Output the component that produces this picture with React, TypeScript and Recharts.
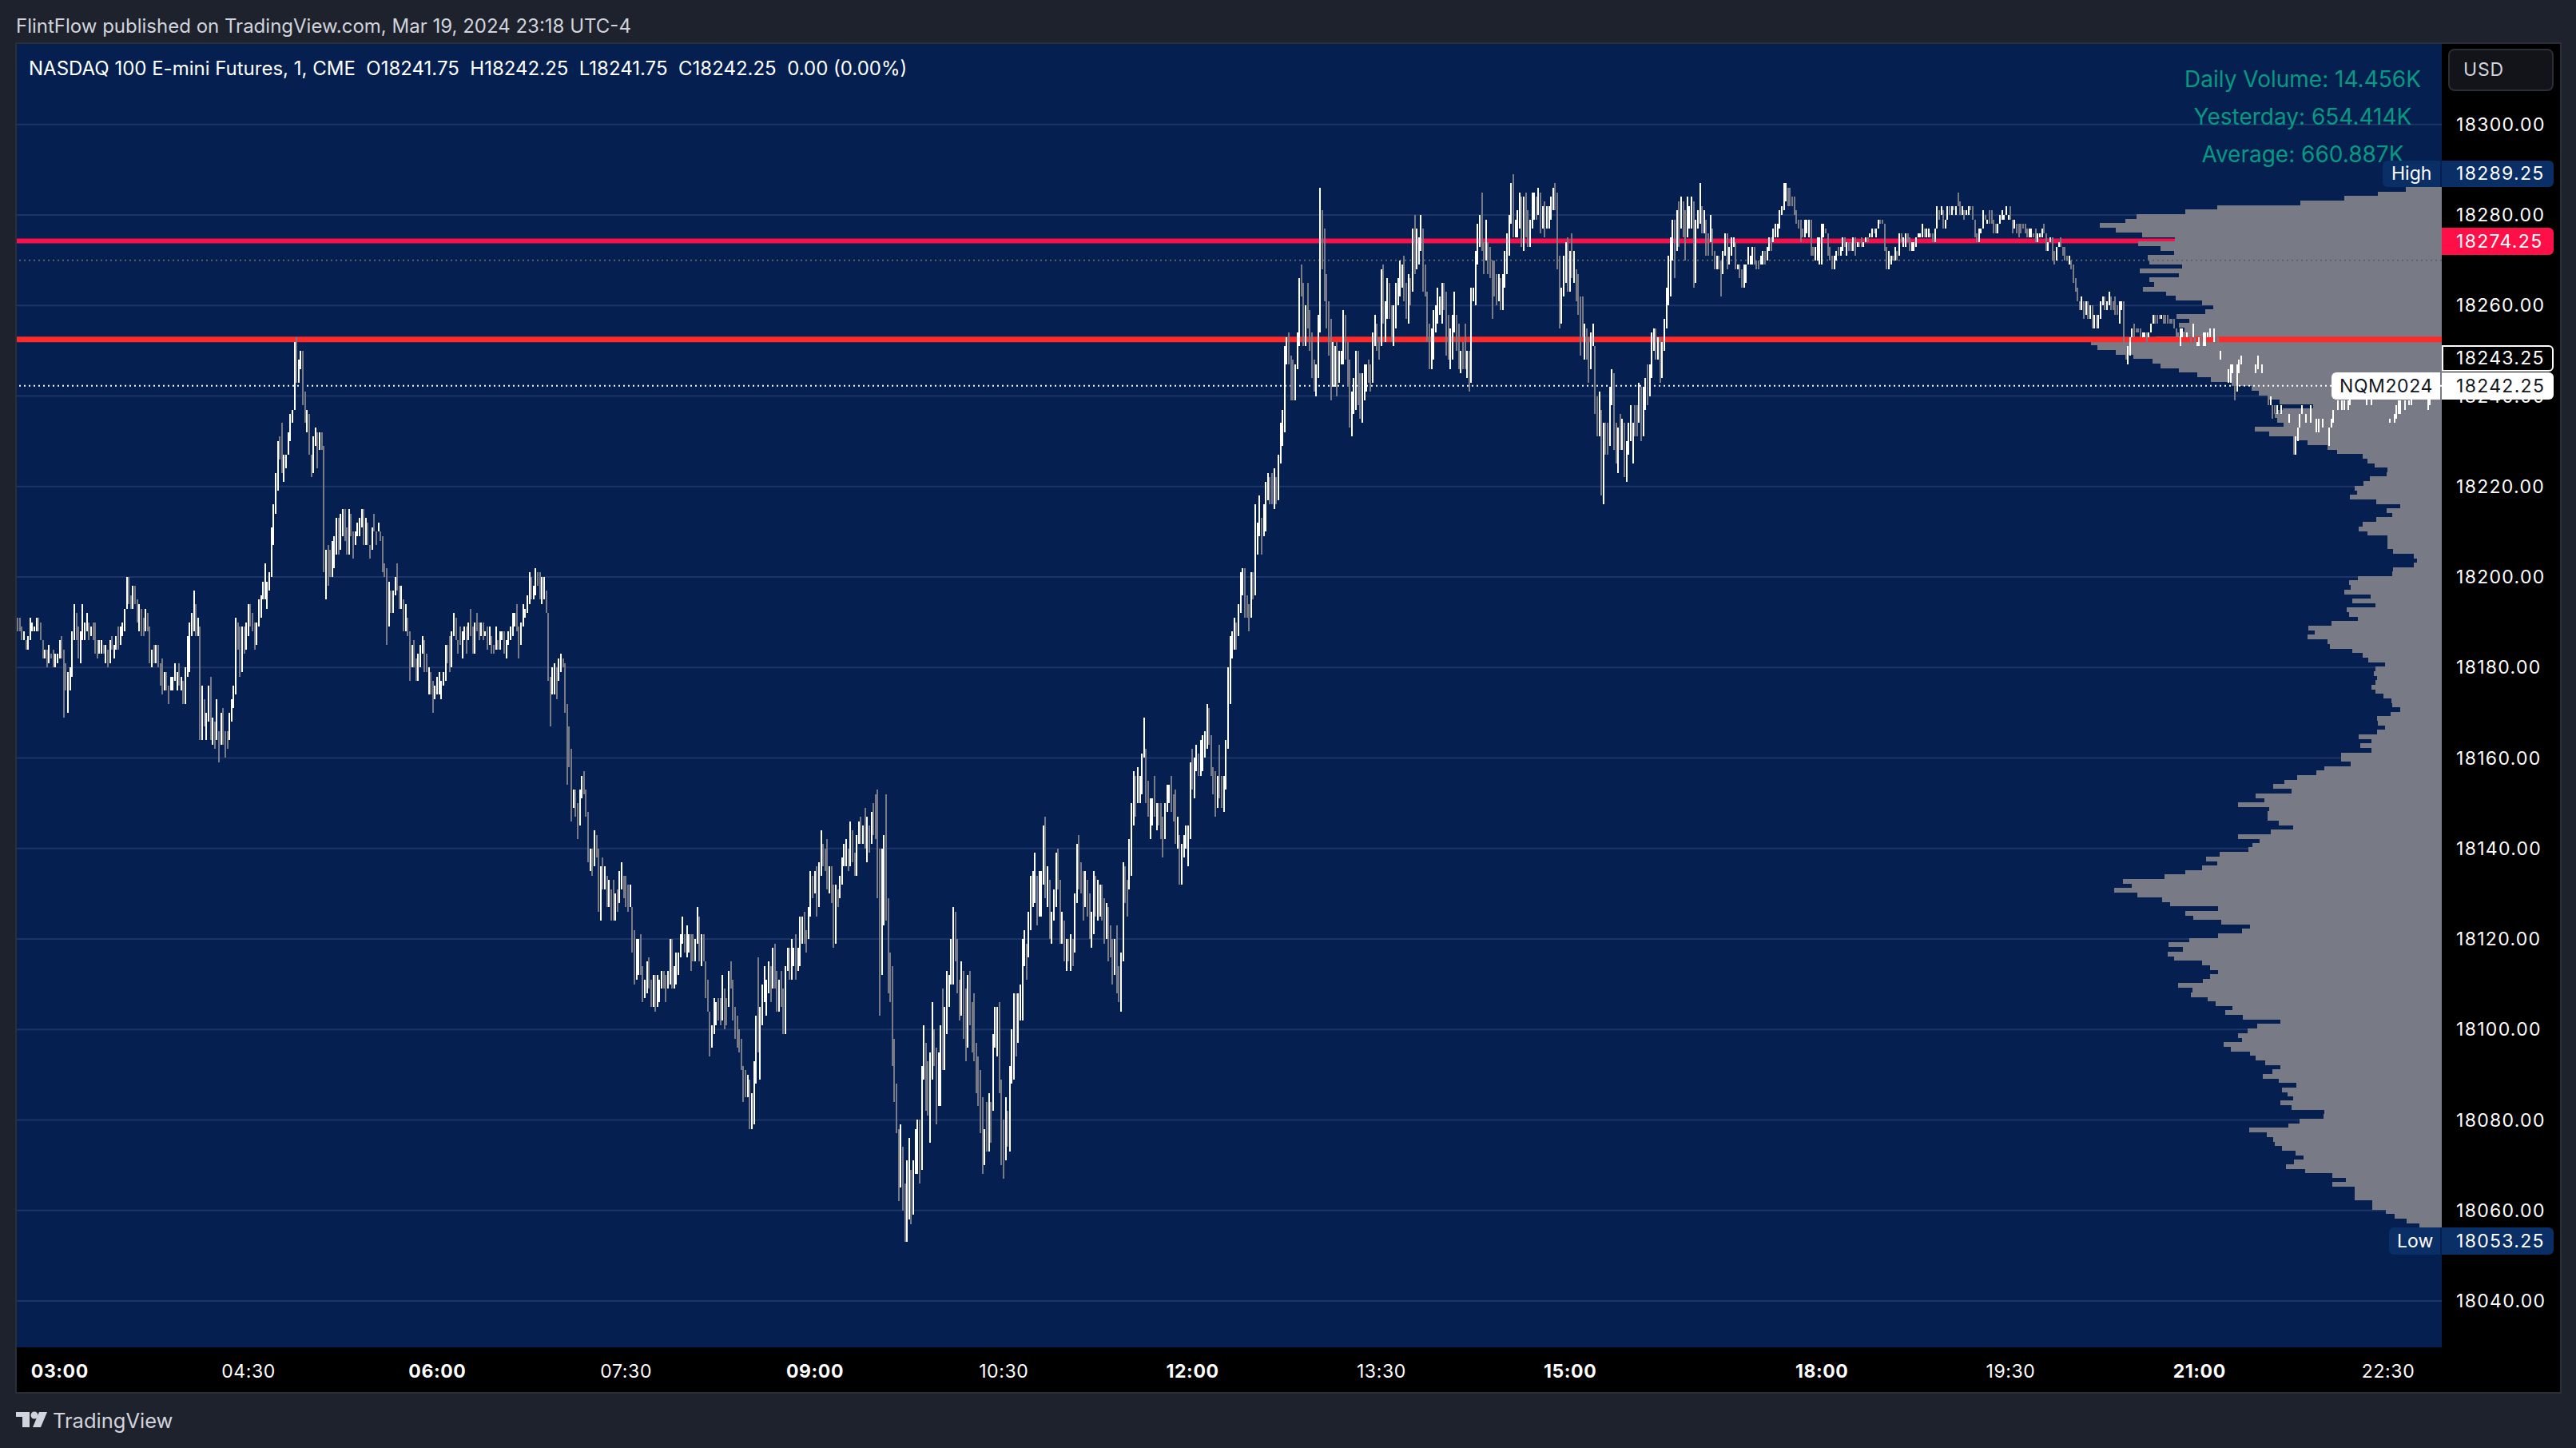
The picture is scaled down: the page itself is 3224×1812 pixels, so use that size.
import React from 'react';
import { Bar, BarChart, Cell, ComposedChart, ReferenceLine, XAxis, YAxis } from 'recharts';

// prices are stored as offsets from this base
const BASE = 18000;

// 1-minute bars, highs of each bar
const highs = [
  191,191,189,188,186,187,191,190,189,191,191,190,186,184,184,185,183,184,183,183,
  186,187,184,181,179,180,188,194,192,189,188,194,190,192,190,189,190,190,186,186,
  186,185,185,184,186,187,185,187,189,189,190,193,200,200,196,198,198,195,194,193,
  191,193,192,189,184,185,185,185,181,182,179,179,176,178,178,181,179,181,178,177,
  180,187,190,192,197,194,191,189,176,173,170,176,178,169,168,173,166,170,171,166,
  166,170,173,176,191,190,189,189,189,190,194,194,192,190,190,195,196,199,203,199,
  201,211,216,223,230,231,234,227,227,232,236,237,252,253,248,250,250,241,237,236,
  227,231,233,232,232,232,229,206,207,206,208,209,213,213,214,215,215,211,215,214,
  210,210,212,213,215,215,213,212,207,211,214,210,212,210,209,203,202,199,197,197,
  200,203,198,198,195,194,191,188,185,186,182,
  183,185,187,186,183,180,179,177,176,178,179,177,179,185,185,187,188,192,191,186,
  189,188,189,189,190,193,189,190,192,190,190,190,188,189,189,187,185,189,186,188,
  188,188,186,188,189,192,192,194,189,190,194,193,196,201,200,198,202,201,201,200,
  200,197,192,178,180,181,180,182,183,182,181,172,167,162,153,153,150,153,156,157,
  153,148,140,140,144,143,140,136,138,136,134,133,131,133,130,131,135,137,134,134,
  132,132,127,122,120,120,121,114,111,115,116,111,112,112,112,111,113,113,112,113,
  120,120,114,117,117,121,125,121,123,121,121,121,120,127,125,121,121,115,111,104,
  101,107,106,107,107,112,109,107,113,115,111,105,103,100,98,92,91,90,89,86,
  93,103,116,105,110,114,111,115,114,118,119,113,111,113,109,114,118,118,120,118,
  121,118,125,125,126,122,127,135,134,135,136,137,144,141,140,142,136,
  136,132,132,131,134,138,141,142,140,146,144,139,143,146,147,145,149,147,145,148,
  150,152,153,140,140,143,152,129,117,114,98,88,78,79,74,66,71,76,69,71,
  78,80,80,92,101,97,93,95,106,100,96,95,101,109,105,113,112,120,127,126,
  120,111,115,113,109,112,113,106,108,97,94,91,85,78,84,86,84,99,105,105,
  106,89,80,85,82,92,100,108,108,108,110,120,122,119,126,134,135,139,134,135,
  135,145,147,136,133,126,131,139,140,133,126,124,120,120,121,120,130,141,143,137,
  135,135,133,130,126,135,134,133,132,132,129,128,127,123,120,120,123,114,117,137,
  136,133,142,150,157,156,158,156,161,169,162,155,151,151,156,150,150,150,147,150,
  154,154,156,152,153,147,143,141,143,145,145,159,162,160,163,161,164,165,166,172,
  171,165,158,157,156,163,156,156,164,180,187,188,191,190,194,201,202,202,
  196,194,201,201,216,212,218,213,216,221,223,222,223,224,222,227,234,237,251,253,
  254,249,248,247,254,266,269,265,260,265,259,254,248,247,258,286,281,277,267,261,
  257,252,251,252,250,250,259,258,252,248,241,244,250,250,245,245,247,247,248,247,
  254,258,256,253,268,269,261,266,265,260,260,265,266,270,269,271,265,267,266,277,
  280,277,275,280,277,269,263,256,255,259,260,264,262,265,265,263,258,255,258,263,
  258,256,250,252,256,250,250,264,264,272,278,280,285,274,279,274,273,270,270,267,
  267,266,267,272,276,280,287,289,279,281,285,284,284,285,281,279,285,285,284,286,
  285,282,283,282,282,284,286,287,285,271,264,271,274,275,272,276,272,268,267,262,
  262,256,255,253,254,256,251,240,241,237,234,234,234,242,246,245,234,233,236,235,
  234,230,234,238,234,238,238,243,242,242,244,247,247,254,255,255,253,253,
  252,257,264,271,275,279,279,281,283,284,283,281,284,282,284,283,279,281,287,282,
  281,279,276,280,277,272,271,271,270,272,276,276,273,275,275,274,269,269,268,269,
  269,273,271,273,273,270,270,271,272,272,273,275,275,277,278,278,281,282,287,
  287,286,286,284,284,281,279,279,277,279,279,279,279,273,273,275,275,278,278,
  277,276,273,271,271,272,273,273,275,275,274,274,274,275,275,274,274,275,274,275,
  275,276,277,277,277,279,279,279,278,273,272,271,271,273,272,276,276,275,276,276,
  275,274,274,275,276,276,278,277,277,277,276,276,277,282,281,282,281,279,282,282,
  282,282,282,285,283,282,281,281,282,282,282,279,276,277,277,281,280,279,281,281,
  279,278,278,280,281,280,282,280,282,279,279,278,278,278,278,278,277,277,277,276,
  277,276,276,277,278,276,274,275,275,272,273,274,275,273,273,271,271,270,269,266,264,
  261,262,261,261,261,260,260,258,258,258,261,262,262,261,263,262,261,262,260,261,
  261,261,251,251,253,255,256,255,255,255,254,254,254,254,256,258,258,258,258,258,
  258,258,258,257,257,257,255,254,255,255,254,254,254,253,256,253,252,253,253,254,
  254,254,255,254,255,254,253,
  250,249,248,247,246,247,247,243,247,248,249,249,249,249,248,248,248,247,249,248,
  247,246,243,240,240,238,238,238,237,238,237,236,236,236,234,231,231,233,236,238,
  237,236,236,238,236,235,235,235,235,235,234,233,233,235,237,238,239,239,239,239,
  239,239,240,241,241,241,241,241,241,241,240,240,240,240,240,240,240,240,240,240,
  240,235,235,236,238,239,239,239,239,240,239,240,240,240,240,240,240,240,240,240,
  240,242,
];

// lows of each bar
const lows = [
  188,188,186,186,184,184,186,188,188,188,188,186,182,182,180,181,182,180,180,181,
  182,182,169,175,170,175,178,186,186,182,181,186,186,188,186,187,186,183,182,183,
  183,183,181,180,181,184,182,184,184,185,187,188,193,194,193,193,194,190,188,187,
  187,188,188,181,180,181,181,180,176,174,175,175,172,175,175,177,175,176,175,172,
  172,178,179,187,188,187,187,164,164,167,164,168,164,163,162,164,159,163,163,160,
  162,164,168,171,174,184,178,179,183,184,187,189,188,184,185,189,191,195,195,193,
  197,200,207,214,219,226,223,221,224,227,230,234,237,243,243,246,238,234,232,227,
  222,223,229,224,228,228,201,195,198,200,200,202,205,205,206,209,208,205,205,209,
  204,207,209,209,211,207,207,207,204,206,210,207,210,208,201,200,185,189,192,192,
  196,197,193,193,188,188,187,177,180,180,177,
  177,180,183,179,179,174,174,170,173,174,174,173,176,177,181,179,180,187,186,183,
  185,182,186,183,186,187,183,183,188,186,187,186,187,184,185,183,183,184,184,184,
  186,183,182,185,186,187,189,188,182,185,189,191,192,194,195,195,196,198,195,194,
  195,192,177,167,174,174,173,177,179,180,170,154,158,146,149,147,142,145,151,152,
  147,137,135,134,136,138,126,124,131,131,127,127,124,124,124,126,128,131,129,127,
  126,127,117,110,111,112,112,106,107,108,109,105,105,104,105,106,109,109,106,109,
  110,109,109,110,112,116,119,117,116,117,113,115,115,119,115,114,115,107,104,94,
  96,99,101,102,101,102,100,101,105,109,102,98,96,95,91,84,85,85,78,78,
  79,88,95,89,101,106,103,108,106,109,109,104,104,105,99,99,113,111,111,114,
  111,113,114,119,119,117,120,125,129,130,125,127,134,136,135,131,130,
  128,118,119,127,129,132,136,136,135,136,137,134,134,141,141,141,140,137,139,141,
  143,142,129,103,112,123,124,108,106,92,84,77,62,65,60,53,53,58,57,59,
  68,68,66,69,89,82,81,75,89,92,79,83,83,91,91,99,105,110,110,115,
  108,102,103,98,93,96,101,95,93,86,83,77,68,70,73,73,75,82,96,94,
  86,70,67,71,74,73,88,89,94,97,102,102,114,111,116,122,127,128,123,125,
  125,132,129,127,120,119,124,127,131,119,119,115,113,115,113,114,117,128,131,130,
  124,127,125,120,118,121,125,124,125,124,119,120,115,116,110,112,108,106,104,115,
  128,125,131,134,145,147,150,150,152,160,150,147,142,145,147,144,145,142,138,142,
  148,150,148,146,141,140,132,132,138,140,136,142,153,151,157,156,156,157,160,162,
  163,156,152,147,149,151,149,148,153,162,172,182,184,184,187,192,196,191,
  191,188,191,195,196,205,209,205,209,210,217,216,216,215,216,217,225,229,232,247,
  247,239,239,239,246,251,262,251,251,255,250,244,241,240,244,254,268,261,255,249,
  239,242,242,240,243,247,247,248,242,233,231,236,237,238,235,234,239,241,243,241,
  243,251,250,248,251,256,252,257,257,252,251,255,260,262,264,261,257,256,260,263,
  267,268,269,272,263,262,252,246,246,248,254,256,258,256,259,249,248,246,248,254,
  250,246,245,246,246,244,241,243,261,260,269,273,272,267,270,267,266,257,262,260,
  261,259,259,264,267,271,278,275,275,275,277,273,272,275,273,273,277,279,279,280,
  276,277,275,277,277,279,281,281,268,255,256,262,265,263,263,266,265,261,258,249,
  253,248,248,243,246,251,236,231,231,218,216,227,227,229,238,228,225,223,228,228,
  222,221,227,230,225,231,231,234,230,231,237,238,240,244,250,248,248,243,
  244,250,255,260,262,270,266,272,273,277,275,270,275,277,277,264,265,277,278,276,
  276,271,271,274,271,268,268,268,262,267,271,268,269,271,273,268,268,266,264,264,
  265,269,269,269,269,268,268,269,269,269,270,272,272,274,275,275,277,280,281,
  283,282,282,282,280,278,277,274,275,275,276,275,271,271,270,270,269,269,275,
  276,271,270,268,268,270,271,271,272,273,271,272,272,272,271,273,273,273,273,274,
  274,275,275,276,275,277,278,278,272,268,268,269,270,270,270,271,274,273,273,274,
  272,272,272,273,275,275,275,275,275,275,275,274,274,277,279,280,277,277,279,280,
  280,281,280,282,280,280,279,280,280,281,279,275,274,274,276,277,279,278,278,278,
  276,276,276,278,279,279,280,279,279,276,277,276,275,276,277,276,275,275,275,275,
  274,274,275,275,276,272,272,274,270,269,270,273,273,271,270,270,269,268,265,263,261,
  259,259,257,258,257,257,255,255,255,255,257,260,259,259,260,259,259,258,258,256,
  259,251,248,247,249,253,253,254,254,253,253,253,252,253,254,256,256,256,257,257,
  256,256,256,256,256,255,253,253,251,253,253,253,253,252,253,252,251,251,252,251,
  251,253,253,253,252,252,252,
  248,247,246,245,243,243,245,239,241,245,247,247,247,247,247,246,246,245,246,246,
  245,244,241,238,238,235,236,236,236,236,235,234,234,234,232,227,227,230,233,236,
  235,234,234,234,235,233,232,232,233,233,232,231,229,233,234,236,237,237,237,237,
  237,237,238,239,239,240,240,240,239,239,238,239,238,238,238,238,238,238,238,238,
  238,234,234,234,235,236,236,237,237,238,238,238,238,238,238,238,238,238,238,237,
  238,241,
];

// u = closed up (white), d = closed down (grey)
const directions = [
  'ddduduuuuu','dddududduu','uddduuuudd','uuuududddu','udududuudu','uuuddudd' + 'ud','duddududdd','udduuuudud','uuuuududud','uududududd',
  'duuuuddudu','uddduuuuuu','uuuuudduuu','uuuduuddud','duududdudd','uuuduuddud','duuuududdu','ddudddd' + 'udu','uddududdudd',
  'uuuddudduu','uuuudduudd','duududdudd','udududdudu','uduuuuuddu','uuuuduuddu','uddduuduud','ddddudduud','ddududdudu','dudduduudd',
  'dudduudduu','dduduuuddu','uduuuuuduu','dduududddd','uuudduddud','dddddddudu','uuduuuuudu','ddudduuduu','duuudduudu','duudddu',
  'dduduuuudu','dduudududu','dddduudddd','dddudduudu','uuduudduud','duuduuuuud','dduddudddd','dddududuuu','ddduduuudu','uuuduuuudu',
  'uududuuudd','udududuudd','dudduuduud','dudddudduu','dduuuduuuu','dduududddu','uuddduduuu','uuduuduuuu','ddddudduuu','uuuduuud',
  'dduduuuduu','udduduuuuu','ddduuuddud','ddduuudddd','duuduuuddd','uuudduuudd','uudduduudd','uuuuuddudu','duuudddduu','uuuuddduuu',
  'ddudduduuu','uudduddddd','uduuuuuduu','ududduuudu','duduuuuddd','uuudududdd','dudduuddud','udduuddudu','duuuuddudu','uduuudud',
  'uuuuuududu','dduuuduuud','uddudduddu','uduuududdu','uuuuddduu','duuduuuuuu','udddddddd','uuudduuuuu','dddduuduud','uddududduu',
  'duuduudddd','uudududuud','duuuuuuduu','dduududuud','ududduduud','ddduuududd','dduuuuuudd','udddddduud','duuudduudd','uuddddudddd',
  'dududududu','uuduuddddu','udduuudddd','uuduuudddu','dddddddduu','dudduduudu','uuududd',
  'uddduuuduu','udddddduud','uddduddudu','dddudduuuu','dududduudu','dduuududuu','duuddddddd','ududdddddd','duduuuudud','uudddddddu','uu',
].join('');

// empty minutes kept on the right of the last bar
const RIGHT_PAD = 4;

const priceTicks = [18040,18060,18080,18100,18120,18140,18160,18180,18200,18220,18240,18260,18280,18300];
const timeTickBars = [20,110,200,290,380,470,560,650,740,860,950,1040,1130];
const timeTickLabels = ['03:00','04:30','06:00','07:30','09:00','10:30','12:00','13:30','15:00','18:00','19:30','21:00','22:30'];
const timeTickBold = ['03:00','06:00','09:00','12:00','15:00','18:00','21:00'];

// session volume profile, one row per point from 18286 down to 18057
const profileVolume = [
  45,80,122,177,281,321,382,396,428,408,375,334,380,352,335,368,366,325,378,329,
  366,360,374,345,333,300,286,296,332,316,329,322,326,358,439,431,408,386,362,352,
  329,306,289,263,238,229,218,203,161,199,209,206,198,234,216,183,168,143,131,99,
  93,84,68,69,90,98,109,106,115,82,52,69,62,82,99,104,93,68,68,68,
  61,35,31,35,61,62,105,116,114,122,89,112,83,119,116,105,138,167,159,168,
  143,140,112,99,92,71,83,85,81,83,88,83,73,63,62,52,64,81,80,71,
  81,104,88,102,88,126,126,114,147,157,181,197,211,188,233,222,255,216,218,218,
  204,186,214,255,228,237,242,278,295,281,300,321,347,399,388,410,381,350,340,280,
  321,311,276,240,250,280,316,342,324,343,335,300,290,280,290,299,330,312,314,293,
  283,262,271,249,202,231,243,255,250,273,264,240,233,221,202,212,224,204,182,200,
  193,186,202,188,147,148,178,192,241,219,211,209,200,183,173,185,195,171,137,120,
  137,109,109,109,87,87,70,59,44,28,
];
const PROFILE_TOP_PRICE = 18286;

const levelCrimson = 18274.25;
const levelRed = 18252.5;
const levelGrey = 18270;
const lastPrice = 18242.25;

const rows = highs.map((h, i) => ({
  i,
  range: [BASE + lows[i], BASE + h],
  up: directions[i] === 'u',
}));
for (let p = 0; p < RIGHT_PAD; p++) rows.push({ i: rows.length, range: null as any, up: false });

const profileRows = profileVolume.map((volume, i) => ({ price: PROFILE_TOP_PRICE - i, volume }));

const FONT = 'Inter, sans-serif';
const WHITE = '#ffffff';
const GREY = '#787b86';
const BG = '#1e222d';
const PANE = '#041f50';
const GRID = '#1c3566';
const LINE = '#2a2e39';
const TAG_BLUE = '#0a2e66';

const PANE_LEFT = 21;
const PANE_TOP = 55;
const PANE_RIGHT = 3056;
const PANE_BOTTOM = 1686;
const AXIS_RIGHT = 3204;
const AXIS_BOTTOM = 1742;
const CHART_W = AXIS_RIGHT - PANE_LEFT;
const CHART_H = AXIS_BOTTOM - PANE_TOP;
const AXIS_W = AXIS_RIGHT - PANE_RIGHT;
const AXIS_H = AXIS_BOTTOM - PANE_BOTTOM;
const Y_MIN = 18029.75;
const Y_MAX = 18317.8;

const layer: React.CSSProperties = { position: 'absolute', left: PANE_LEFT, top: PANE_TOP };
const chartProps = { width: CHART_W, height: CHART_H, data: rows, margin: { top: 0, right: 0, bottom: 0, left: 0 } };

function TimeTick({ x, payload }: any) {
  const label = timeTickLabels[timeTickBars.indexOf(payload.value)];
  return (
    <text
      x={x}
      y={PANE_BOTTOM - PANE_TOP + 38}
      textAnchor="middle"
      fill={WHITE}
      fontFamily={FONT}
      fontSize={23}
      letterSpacing={0.6}
      fontWeight={timeTickBold.includes(label) ? 700 : 400}
    >
      {label}
    </text>
  );
}

function PriceTag({ left, top, width, height, bg, color = WHITE, text, border, pad = 18, spacing = 1.3, radius = '0 6px 6px 0' }: any) {
  return (
    <div
      style={{
        position: 'absolute',
        left,
        top,
        width,
        height,
        boxSizing: 'border-box',
        background: bg,
        color,
        border: border ? `2px solid ${border}` : undefined,
        borderRadius: radius,
        font: `23px ${FONT}`,
        letterSpacing: spacing,
        lineHeight: `${border ? height - 4 : height}px`,
        paddingLeft: border ? pad - 2 : pad,
        whiteSpace: 'nowrap',
      }}
    >
      {text}
    </div>
  );
}

export default function App() {
  return (
    <div style={{ position: 'absolute', left: 0, top: 0, width: 3224, height: 1812, background: BG, overflow: 'hidden' }}>
      <div style={{ position: 'absolute', left: 19, top: 53, width: AXIS_RIGHT - 19 + 2, height: AXIS_BOTTOM - 53 + 2, boxSizing: 'border-box', border: `2px solid ${LINE}`, background: '#000' }} />
      <div style={{ position: 'absolute', left: PANE_LEFT, top: PANE_TOP, width: PANE_RIGHT - PANE_LEFT, height: PANE_BOTTOM - PANE_TOP, background: PANE }} />

      <div style={{ position: 'absolute', left: 20, top: 18, font: `24px ${FONT}`, color: '#d1d4dc', whiteSpace: 'pre' }}>
        FlintFlow published on TradingView.com, Mar 19, 2024 23:18 UTC-4
      </div>

      {/* grid and the level that sits behind the profile */}
      <div style={layer}>
        <ComposedChart {...chartProps}>
          <XAxis dataKey="i" height={AXIS_H} tick={false} axisLine={false} tickLine={false} />
          <YAxis orientation="right" width={AXIS_W} domain={[Y_MIN, Y_MAX]} ticks={priceTicks} tick={false} axisLine={false} tickLine={false} allowDataOverflow />
          {priceTicks.map((p) => (
            <ReferenceLine key={p} y={p} stroke={GRID} strokeWidth={2} />
          ))}
          <ReferenceLine y={levelCrimson} stroke="#f7104a" strokeWidth={6} />
        </ComposedChart>
      </div>

      {/* volume profile growing from the right edge */}
      <div style={{ position: 'absolute', left: PANE_RIGHT - 600, top: 234 }}>
        <BarChart width={600} height={1302} layout="vertical" data={profileRows} margin={{ top: 0, right: 0, bottom: 0, left: 0 }} barCategoryGap={0}>
          <XAxis type="number" domain={[0, 600]} reversed hide />
          <YAxis type="category" dataKey="price" hide />
          <Bar dataKey="volume" fill={GREY} isAnimationActive={false} shapeRendering="crispEdges" />
        </BarChart>
      </div>

      {/* levels drawn over the profile */}
      <div style={layer}>
        <ComposedChart {...chartProps}>
          <XAxis dataKey="i" height={AXIS_H} tick={false} axisLine={false} tickLine={false} />
          <YAxis orientation="right" width={AXIS_W} domain={[Y_MIN, Y_MAX]} ticks={priceTicks} tick={false} axisLine={false} tickLine={false} allowDataOverflow />
          <ReferenceLine y={levelRed} stroke="#ff2b2b" strokeWidth={7} />
          <ReferenceLine y={levelGrey} stroke="#5d606b" strokeWidth={2} strokeDasharray="2 4" />
          <ReferenceLine y={lastPrice} stroke={WHITE} strokeWidth={2} strokeDasharray="2 4" />
        </ComposedChart>
      </div>

      {/* price bars and axis labels */}
      <div style={layer}>
        <ComposedChart {...chartProps}>
          <XAxis
            dataKey="i"
            height={AXIS_H}
            ticks={timeTickBars}
            interval={0}
            tick={<TimeTick />}
            axisLine={false}
            tickLine={false}
          />
          <YAxis
            orientation="right"
            width={AXIS_W}
            domain={[Y_MIN, Y_MAX]}
            ticks={priceTicks}
            interval={0}
            tickFormatter={(v: number) => v.toFixed(2)}
            tick={{ fill: WHITE, fontSize: 23, fontFamily: FONT, letterSpacing: 1.3 }}
            tickSize={0}
            tickMargin={18}
            axisLine={false}
            tickLine={false}
            allowDataOverflow
          />
          <Bar dataKey="range" barSize={2} isAnimationActive={false} shapeRendering="crispEdges">
            {rows.map((r) => (
              <Cell key={r.i} fill={r.up ? WHITE : GREY} />
            ))}
          </Bar>
        </ComposedChart>
      </div>

      <div style={{ position: 'absolute', left: 36, top: 71, font: `24px ${FONT}`, color: WHITE, whiteSpace: 'pre' }}>
        {'NASDAQ 100 E-mini Futures, 1, CME  O18241.75  H18242.25  L18241.75  C18242.25  0.00 (0.00%)'}
      </div>

      {['Daily Volume: 14.456K', 'Yesterday: 654.414K', 'Average: 660.887K'].map((t, i) => (
        <div key={t} style={{ position: 'absolute', left: 2682, width: 400, top: 82 + i * 47, textAlign: 'center', font: `28px ${FONT}`, color: '#089981', whiteSpace: 'pre' }}>
          {t}
        </div>
      ))}

      <div style={{ position: 'absolute', left: 3064, top: 61, width: 132, height: 53, boxSizing: 'border-box', background: '#131419', border: `2px solid ${LINE}`, borderRadius: 8, font: `23px ${FONT}`, letterSpacing: 0.8, color: '#d1d4dc', lineHeight: '49px', paddingLeft: 17 }}>
        USD
      </div>

      <PriceTag left={2982} top={201} width={72} height={33} bg={TAG_BLUE} text="High" pad={11} spacing={0} radius="6px 0 0 6px" />
      <PriceTag left={3056} top={201} width={140} height={33} bg={TAG_BLUE} text="18289.25" />
      <PriceTag left={2990} top={1536} width={64} height={34} bg={TAG_BLUE} text="Low" pad={10} spacing={0} radius="6px 0 0 6px" />
      <PriceTag left={3056} top={1536} width={140} height={34} bg={TAG_BLUE} text="18053.25" />
      <PriceTag left={3056} top={285} width={140} height={34} bg="#ff0f47" text="18274.25" />
      <PriceTag left={3056} top={432} width={140} height={33} bg="#000" border={WHITE} text="18243.25" />
      <PriceTag left={2918} top={466} width={136} height={34} bg={WHITE} color="#131722" text="NQM2024" pad={10} spacing={0.6} radius="6px 0 0 6px" />
      <PriceTag left={3056} top={466} width={140} height={34} bg={WHITE} color="#131722" text="18242.25" />

      <svg style={{ position: 'absolute', left: 20, top: 1766 }} width={40} height={21}>
        <path d="M0 1H17V20H8V7H0Z M39 1L31 20H21L29 1Z" fill="#d1d4dc" />
        <circle cx={23} cy={5} r={4.5} fill="#d1d4dc" />
      </svg>
      <div style={{ position: 'absolute', left: 66, top: 1762, font: `25.5px ${FONT}`, color: '#d1d4dc' }}>TradingView</div>
    </div>
  );
}
